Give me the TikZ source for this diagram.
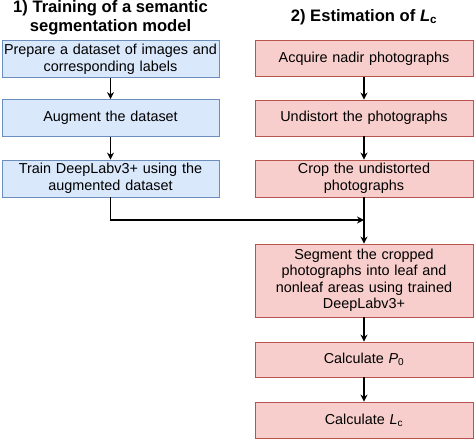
\documentclass[tikz,border=0pt]{standalone}
\usepackage{fontspec}
\setmainfont{Liberation Sans}
\usetikzlibrary{calc,arrows.meta}

\definecolor{bluefill}{HTML}{DAE8FC}
\definecolor{blueline}{HTML}{6C8EBF}
\definecolor{redfill}{HTML}{F8CECC}
\definecolor{redline}{HTML}{B85450}

\tikzset{
  trainbox/.style={draw=blueline,fill=bluefill,line width=0.9pt,minimum width=217pt,text width=215pt,align=center,inner sep=0pt,font=\fontsize{14.4}{17}\selectfont},
  estbox/.style={draw=redline,fill=redfill,line width=0.9pt,minimum width=218pt,text width=215pt,align=center,inner sep=0pt,font=\fontsize{14.4}{16.5}\selectfont},
  heading/.style={align=center,font=\bfseries\fontsize{16.6}{19}\selectfont},
  flow/.style={line width=1.1pt,-{Stealth[length=7pt,width=7pt]}}
}

\begin{document}
\begin{tikzpicture}[x=1pt,y=-1pt]

\useasboundingbox (0,0) rectangle (474,440);

\def\lx{110.5}\def\rx{364}

% titles
\node[heading] (tleft) at (\lx,18) {1) Training of a semantic\\segmentation model};
\node[heading] (tright) at (\rx,17) {2) Estimation of \textit{L}\textsubscript{c}};

% left column
\node[trainbox,minimum height=37pt] (prep) at (\lx,59) {Prepare a dataset of images and\\corresponding labels};
\node[trainbox,minimum height=37pt] (aug) at (\lx,118) {Augment the dataset};
\node[trainbox,minimum height=37pt] (train) at (\lx,178.5) {Train DeepLabv3+ using the\\augmented dataset};

% right column
\node[estbox,minimum height=36pt] (acq) at (\rx,58.5) {Acquire nadir photographs};
\node[estbox,minimum height=36pt] (undist) at (\rx,118) {Undistort the photographs};
\node[estbox,minimum height=37pt] (crop) at (\rx,178.5) {Crop the undistorted\\photographs};
\node[estbox,minimum height=73pt] (seg) at (\rx,280.5) {Segment the cropped\\photographs into leaf and\\nonleaf areas using trained\\DeepLabv3+};
\node[estbox,minimum height=35pt] (pzero) at (\rx,359.5) {Calculate \textit{P}\textsubscript{0}};
\node[estbox,minimum height=36pt] (lc) at (\rx,420) {Calculate \textit{L}\textsubscript{c}};

\coordinate (join) at (\rx,220);

\draw[flow] (prep) -- (aug);
\draw[flow] (aug) -- (train);
\draw[flow] (acq) -- (undist);
\draw[flow] (undist) -- (crop);
\draw[flow] (train.south) |- (join);
\draw[line width=1.1pt] (crop.south) -- (join);
\draw[flow] (join) -- (seg);
\draw[flow] (seg) -- (pzero);
\draw[flow] (pzero) -- (lc);

\end{tikzpicture}
\end{document}
